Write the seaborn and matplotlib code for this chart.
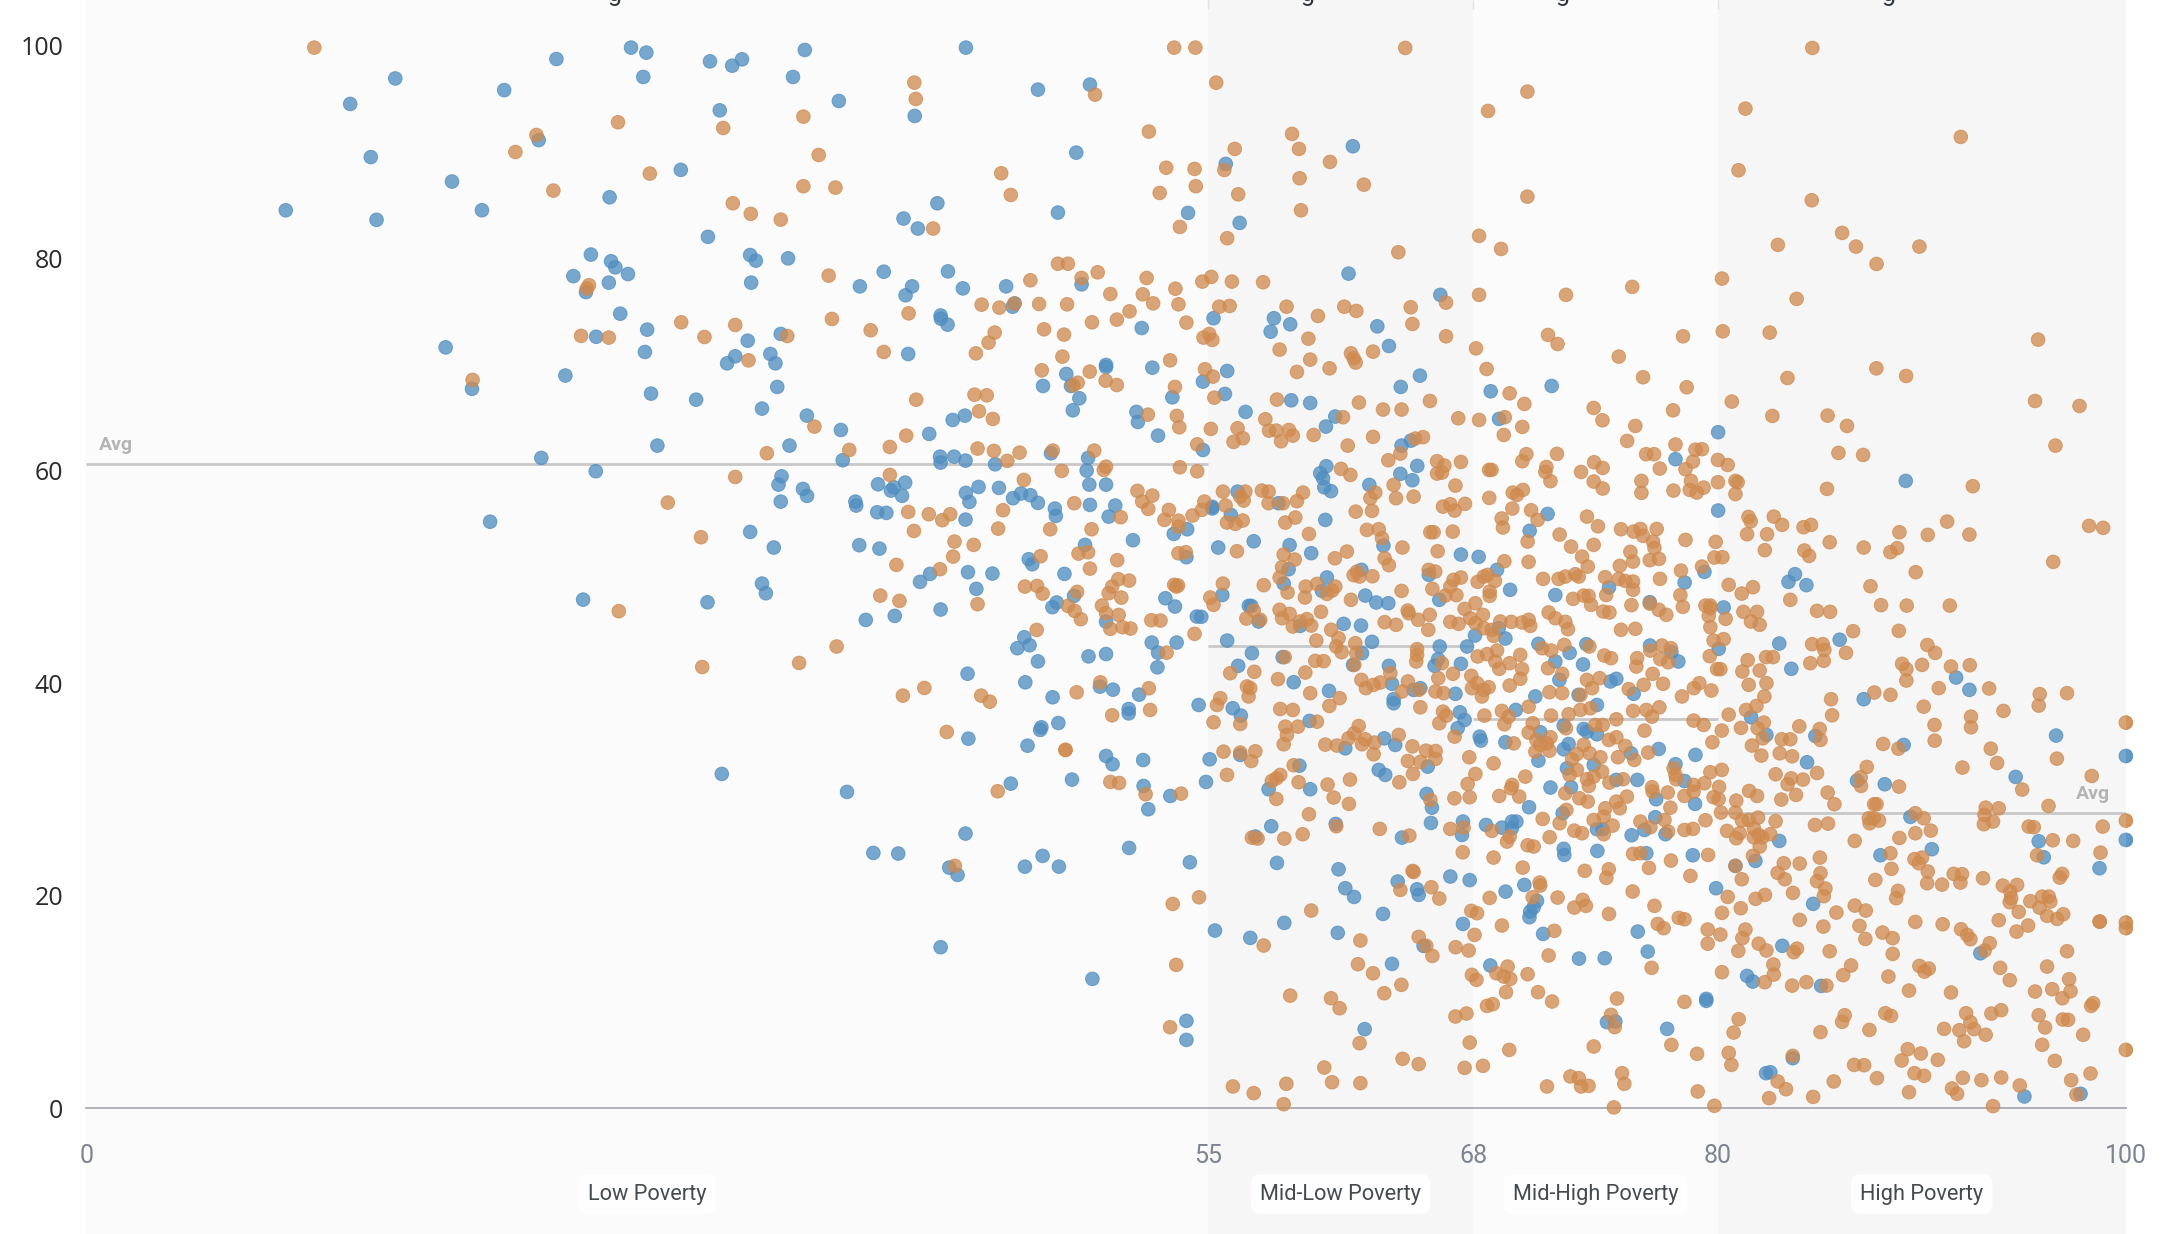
import matplotlib
matplotlib.use("Agg")
import matplotlib.pyplot as plt
from matplotlib.patches import Rectangle
import pandas as pd
import seaborn as sns

# Poverty-band breakpoints and labels
band_edges = [0, 55, 68, 80, 100]
band_labels = ["Low Poverty", "Mid-Low Poverty", "Mid-High Poverty", "High Poverty"]
band_averages = [60.64, 43.55, 36.6, 27.8]
y_ticks = [0, 20, 40, 60, 80, 100]

# (poverty %, score) per school, two groups
blue_points = [
(9.78,84.5),(14.23,83.6),(13.95,89.5),(12.94,94.5),(15.15,96.9),(17.93,87.2),(19.4,84.5),(20.49,95.8),(23.05,98.73),(22.18,91.1),
(17.62,71.6),(18.91,67.7),(23.49,68.95),(22.31,61.2),(24.98,59.95),(19.8,55.2),(23.88,78.3),(24.74,80.33),(24.5,76.8),(25.0,72.6),(24.36,47.87),
(26.71,99.8),(27.46,99.33),(27.31,97.04),(30.58,98.51),(31.67,98.1),(32.15,98.7),(35.23,99.58),(34.65,97.04),(36.9,94.78),(43.13,99.8),
(40.62,93.37),(46.66,95.85),(49.21,96.32),(48.54,89.92),(31.06,93.9),(29.15,88.3),(25.66,85.72),(30.48,82.0),(41.73,85.16),(40.07,83.72),
(40.77,82.78),(47.64,84.28),(54.02,84.25),
(62.1,90.52),(55.87,88.86),(56.55,83.31),(61.89,78.54),(66.39,76.54),
(25.73,79.7),(25.94,79.13),(26.56,78.5),(25.62,77.69),(26.18,74.77),(27.5,73.27),(27.39,71.17),(27.69,67.25),(29.9,66.68),(28.0,62.36),
(32.55,80.29),(32.83,79.76),(34.41,79.98),(32.6,77.69),(34.05,72.86),(32.43,72.23),(33.54,70.98),(33.79,70.1),(31.82,70.76),(31.42,70.1),
(33.88,67.88),(33.13,65.84),(35.33,65.18),(37.0,63.83),(34.48,62.36),(39.1,78.72),(37.93,77.34),(40.49,77.34),(40.17,76.5),(42.25,78.75),
(42.98,77.15),(45.1,77.34),(45.52,75.74),(45.42,75.43),(41.89,74.6),(41.9,74.3),(42.23,73.74),(40.3,70.98),(48.8,77.53),(51.75,73.42),
(50.0,69.95),(50.0,69.75),(48.05,69.1),(46.91,67.97),(48.28,67.97),(48.69,66.81),(48.37,65.68),(52.27,69.69),(53.25,66.9),(51.49,65.53),
(51.56,64.58),(52.55,63.3),(42.48,64.77),(43.08,65.18),(41.33,63.46),(41.86,61.32),(41.89,60.76),(42.55,61.32),(43.11,60.95),(44.56,60.6),
(47.3,61.64),(49.12,61.2),(49.05,60.01),(49.18,58.69),(50.0,58.69),(37.09,60.98),(34.09,59.47),(33.94,58.69),(35.14,58.28),(35.34,57.63),
(34.05,57.09),(37.71,57.09),(37.75,56.72),(38.82,58.72),(39.6,58.44),(39.45,58.13),(40.15,58.88),(40.0,57.63),(38.78,56.09),(39.23,56.03),
(43.13,57.91),(43.3,57.06),(43.75,58.47),(44.75,58.38),(45.44,57.41),(45.83,57.85),(46.29,57.69),(46.66,56.97),(47.49,56.43),(47.54,55.74),
(49.21,56.78),(50.45,56.72),(50.13,55.68),(43.11,55.4),(51.32,53.46),(53.32,54.05),(53.98,54.49),(32.55,54.24),(33.71,52.77),(37.9,52.99),
(38.89,52.67),(48.97,53.02),(46.21,51.67),(46.38,51.2),(53.94,51.86),(41.37,50.29),(40.88,49.54),(43.23,50.45),(44.43,50.32),(43.64,48.88),
(47.96,50.29),(48.43,48.22),(52.91,48.0),(53.38,47.22),(47.58,47.6),(47.37,47.16),(30.46,47.62),(33.13,49.38),(33.32,48.47),(41.89,46.94),
(39.64,46.34),(38.22,45.96),(50.0,45.8),(54.45,46.28),(45.99,44.33),(46.25,43.58),(45.65,43.3),(52.24,43.83),(53.46,43.83),
(43.21,40.9),(46.66,42.06),(49.14,42.53),(50.0,42.75),(52.55,42.88),(52.52,41.5),(46.04,40.09),(47.38,38.68),(49.7,39.68),(50.34,39.4),
(51.62,38.93),(51.11,37.58),(51.11,37.17),(54.54,37.96),(47.66,36.26),(46.83,35.86),(46.77,35.61),(43.25,34.79),(46.15,34.13),(50.0,33.16),
(50.32,32.38),(51.82,32.78),(31.16,31.47),(37.3,29.78),(45.33,30.56),(48.33,30.94),(51.84,30.34),(53.15,29.4),(52.07,28.15),(43.11,25.86),
(38.59,24.04),(39.81,23.98),(42.31,22.66),(42.72,21.97),(46.89,23.76),(46.02,22.75),(47.69,22.75),(51.13,24.51),(54.11,23.16),(41.89,15.17),
(49.33,12.19),(53.94,8.24),(53.94,6.45),
(55.27,74.34),(58.23,74.34),(59.03,73.77),(58.07,73.08),(63.3,73.58),(63.87,71.73),(55.94,69.38),(54.75,68.38),(55.83,67.22),(59.08,66.62),
(60.01,66.37),(56.84,65.53),(61.24,65.09),(60.78,64.15),(65.39,68.94),(64.45,67.88),(68.86,67.47),(71.85,67.97),(69.27,64.87),(64.49,62.36),
(64.95,62.83),(54.75,61.95),(60.8,60.42),(60.5,59.76),(60.64,59.29),(60.7,58.44),(61.03,58.07),(65.26,60.45),(64.43,59.7),(65.02,59.1),
(62.91,58.66),(77.92,61.08),(56.45,58.03),(55.21,56.6),(55.21,56.45),(56.12,55.84),(58.46,56.94),(60.75,55.37),(71.65,55.93),(70.77,54.34),
(57.24,53.36),(55.5,52.77),(59.0,53.0),(60.06,52.24),(63.6,52.96),(67.4,52.11),(68.27,51.89),(69.17,50.67),(58.95,50.73),(62.52,50.67),
(60.83,49.95),(58.71,49.38),(60.59,48.69),(65.83,50.2),(69.81,48.79),(72.03,48.3),(74.66,49.01),(78.37,49.48),(55.7,48.3),(62.71,48.25),
(63.25,47.6),(63.84,47.53),(66.34,47.85),(76.66,47.63),(57.0,47.28),(57.12,47.28),(54.67,46.25),(57.48,45.81),(59.52,45.4),(61.65,45.59),
(62.5,45.43),(68.09,44.49),(69.58,44.21),(69.25,45.18),(55.94,44.02),(63.04,43.9),(66.36,43.46),(67.7,43.46),(71.2,43.71),(73.55,43.68),
(76.67,43.55),(77.72,42.92),(78.06,42.05),(57.15,42.83),(58.66,42.46),(62.55,42.83),(72.03,42.05),(72.73,42.86),(73.39,41.77),(66.28,42.27),
(66.11,41.64),(67.4,41.83),(62.11,41.73),(56.48,41.64),(63.87,41.64),(59.2,40.1),(72.23,40.32),(74.73,40.17),(75.02,40.42),(64.02,39.95),
(60.93,39.29),(65.41,39.54),(65.08,39.38),(67.13,39.01),(75.87,39.01),(73.17,38.91),(71.05,38.76),(64.1,38.5),
(56.21,37.65),(56.61,36.96),(59.98,36.46),(64.1,38.12),(67.35,37.27),(67.58,36.55),(67.24,35.77),(70.09,37.49),(74.07,37.96),(72.44,36.02),
(73.42,35.7),(73.58,35.45),(74.07,35.2),(71.29,35.39),(69.58,34.45),(68.32,34.98),(68.38,34.61),(63.64,34.82),(64.18,34.2),(61.73,33.88),
(72.68,34.29),(72.44,33.79),(75.74,33.41),(77.1,33.82),(78.9,33.26),(71.2,32.72),(55.08,32.85),(56.58,33.26),(59.48,32.25),(65.77,32.16),
(63.37,31.85),(63.69,31.38),(73.91,32.32),(72.6,32.0),(75.02,30.91),(76.05,30.91),(77.92,32.38),(78.36,30.81),(54.9,30.72),(57.97,30.03),
(60.01,30.03),(71.79,30.19),(72.8,30.22),(65.72,29.59),(65.98,28.3),(76.97,29.09),(78.88,28.65),(70.74,28.34),(72.39,27.77),(65.93,26.86),
(67.5,26.99),(68.63,26.67),(69.41,26.42),(69.9,26.99),(70.12,26.99),(69.9,26.36),(61.26,26.77),(58.1,26.55),(57.32,25.58),(64.51,25.48),
(67.45,25.73),(74.07,26.27),(74.35,26.27),(76.93,27.4),(76.4,26.2),(77.43,25.8),(75.77,25.7),(72.44,24.42),(72.47,23.85),(74.09,24.23),
(76.49,24.01),(78.77,23.82),(58.38,23.1),(61.4,22.5),(66.88,21.82),(67.83,21.48),(64.3,21.35),(61.73,20.72),(62.16,19.9),(65.25,20.62),
(65.33,20.09),(70.51,21.03),(69.59,20.4),(71.13,19.53),(70.97,18.93),(70.8,18.52),(70.76,17.99),(63.58,18.3),(58.74,17.46),(67.5,17.36),
(55.34,16.74),(61.36,16.52),(57.07,16.05),(65.57,15.29),(71.43,16.42),(76.07,16.64),(76.56,14.76),(73.19,14.1),(74.45,14.14),(64.02,13.6),
(68.84,13.45),(62.68,7.46),(74.56,8.12),(74.97,8.18),(77.51,7.49),
(80.01,63.62),(89.21,59.04),(80.01,56.25),(83.78,50.26),(83.46,49.54),(84.34,49.23),(79.34,50.48),(80.28,47.13),(83.01,43.74),(85.97,44.1),
(80.04,43.24),(83.6,41.36),(91.68,40.54),(92.33,39.38),(87.15,38.5),
(81.63,36.8),(82.38,35.14),(84.78,35.04),(89.11,34.2),(96.58,35.08),(100,33.16),(84.37,32.57),(94.6,31.19),(88.18,30.5),(86.82,30.84),
(89.44,27.43),(83.01,25.17),(95.73,25.14),(100,25.26),(90.49,24.39),(87.97,23.82),(95.98,23.63),(81.84,23.29),(80.86,22.82),(98.71,22.6),
(79.91,20.72),(84.67,19.25),(83.16,15.3),(92.87,14.6),(81.43,12.47),(81.71,11.94),(85.06,11.53),(79.43,10.31),(79.43,10.12),(83.67,4.73),
(82.36,3.32),(82.57,3.41),(95.03,1.13),(97.78,1.38),
]

orange_points = [
(11.18,99.8),(22.07,91.58),(21.04,89.98),(22.9,86.35),(18.94,68.54),(24.65,77.45),(24.54,77.13),(24.26,72.68),
(26.07,92.78),(31.23,92.24),(35.16,93.31),(40.6,96.51),(40.67,94.97),(35.91,89.7),(27.63,87.95),(35.16,86.76),(36.73,86.63),(31.7,85.16),
(32.58,84.16),(34.05,83.62),(41.52,82.78),(44.86,87.98),(45.33,85.94),(49.46,95.38),(52.1,91.9),(52.95,88.5),(54.34,88.39),(52.63,86.13),
(54.4,86.76),(53.62,82.93),(53.34,99.8),(54.38,99.8),
(64.67,99.77),(55.4,96.5),(59.12,91.68),(56.31,90.27),(59.46,90.27),(60.98,89.05),(55.8,88.29),(59.49,87.51),(62.64,86.91),(56.48,86.0),
(59.56,84.5),(55.94,81.87),(64.33,80.55),(55.16,78.23),(56.17,77.79),(57.7,77.73),(54.72,77.79),(70.66,95.66),(68.73,93.84),(70.66,85.78),
(68.29,82.09),(69.37,80.86),(72.55,76.54),(75.8,77.29),(68.29,76.54),(80.2,78.07),(84.63,99.77),(81.35,94.06),(91.91,91.4),(81.01,88.26),
(84.6,85.44),(86.09,82.37),(82.94,81.24),(86.77,81.08),(89.88,81.08),(87.78,79.45),(83.86,76.16),
(25.62,72.52),(29.17,73.96),(30.31,72.58),(31.82,73.71),(32.47,70.38),(34.37,72.67),(36.4,78.35),(36.56,74.27),(38.46,73.21),(40.32,74.8),
(39.1,71.17),(43.9,75.62),(44.77,75.34),(45.5,75.71),(46.72,75.68),(48.09,75.65),(46.29,77.91),(47.64,79.47),(48.13,79.47),(48.8,78.13),
(49.59,78.66),(50.21,76.62),(51.99,78.13),(51.8,76.59),(52.31,75.74),(53.4,77.12),(53.55,75.65),(49.31,73.96),(50.53,74.21),(51.15,74.99),
(53.94,73.93),(46.96,73.3),(47.94,72.8),(44.54,72.99),(44.24,72.05),(43.62,71.04),(47.86,70.73),(46.85,69.44),(49.2,69.32),(48.61,68.28),
(48.39,68.03),(49.98,68.47),(50.53,68.06),(53.14,70.38),(53.38,67.88),(40.69,66.68),(43.55,67.15),(44.15,67.09),(43.77,65.59),(44.45,64.87),
(52.05,65.27),(53.47,65.15),(53.59,64.08),(35.7,64.15),(33.37,61.64),(37.41,61.95),(39.4,62.23),(40.2,63.3),(43.7,62.08),(44.5,61.86),
(45.76,61.7),(45.16,60.92),(47.39,61.89),(49.42,61.89),(50.0,60.38),(49.89,60.07),(47.83,59.98),(53.62,60.32),(54.47,59.94),(54.47,62.48),
(31.82,59.41),(28.51,57.0),(39.4,59.6),(45.97,59.13),(30.14,53.74),(40.3,56.12),(41.31,55.9),(41.97,55.34),(42.36,55.9),(40.58,54.33),
(42.57,53.33),(43.51,53.02),(42.5,51.92),(44.95,56.28),(44.71,54.55),(48.44,56.94),(47.26,54.49),(49.29,54.49),(50.72,55.62),(51.54,58.1),
(52.27,57.66),(51.77,57.09),(52.07,56.4),(53.08,56.31),(52.86,55.37),(53.55,55.3),(53.55,54.74),(54.24,55.78),(48.65,52.2),(49.12,52.33),
(46.79,51.95),(50.55,51.58),(49.21,50.79),(53.55,52.23),(53.91,52.33),(39.72,51.14),(41.86,50.73),(46.02,49.1),(46.62,49.16),(46.89,48.44),
(48.58,48.6),(50.6,49.79),(51.13,49.66),(50.3,49.1),(50.13,48.47),(50.75,48.06),(53.34,49.26),(53.53,49.2),(53.44,49.1),(38.93,48.25),
(39.87,47.75),(43.7,47.44),(26.11,46.78),(48.13,47.28),(48.46,46.81),(48.76,46.03),(49.8,47.31),(50.0,46.59),(50.62,46.43),(50.21,45.12),
(50.81,45.27),(51.2,45.15),(52.22,45.93),(52.67,45.9),(46.6,45.02),(54.34,44.65),(36.79,43.46),
(30.2,41.53),(34.95,41.91),(41.09,39.56),(40.04,38.84),(43.88,38.84),(44.3,38.27),(52.97,42.88),(48.56,39.15),(49.72,40.09),(52.1,39.53),
(50.3,36.99),(52.16,37.49),(42.19,35.42),(48.01,33.73),(48.01,33.73),(44.69,29.84),(50.21,30.72),(50.64,30.62),(51.94,29.56),(53.68,29.62),
(42.59,22.82),(53.27,19.24),(54.56,19.87),(53.44,13.51),(53.14,7.64),
(55.55,75.43),(56.06,75.5),(58.85,75.43),(60.39,74.56),(61.68,75.43),(62.27,75.03),(64.94,75.37),(66.67,75.81),(65.02,73.8),(66.67,72.64),
(59.92,72.42),(58.51,71.39),(60.01,70.45),(59.36,69.29),(60.96,69.63),(62.01,71.04),(62.14,70.57),(62.24,70.17),(63.09,71.2),(55.06,72.86),
(54.78,72.52),(55.21,72.3),(68.14,71.51),(68.66,69.57),(71.67,72.77),(72.14,71.92),(78.29,72.64),(75.14,70.73),(76.33,68.79),(78.47,67.85),
(69.79,67.28),(70.51,66.28),(73.91,65.9),(74.34,64.74),(77.8,65.68),(75.95,64.21),(75.55,62.8),(77.92,62.46),(78.9,61.98),(54.85,69.54),
(55.24,68.85),(55.31,66.87),(58.38,66.69),(62.4,66.41),(63.58,65.75),(64.49,65.75),(65.88,66.56),(69.55,65.03),(68.29,64.77),(67.27,64.93),
(70.41,64.12),(69.5,63.36),(61.62,65.03),(57.81,64.84),(57.99,63.77),(58.35,63.77),(58.97,63.83),(59.16,63.3),(58.58,62.77),(60.18,63.36),
(55.14,63.93),(56.45,63.99),(56.71,63.05),(56.25,62.71),(63.09,63.18),(61.85,62.36),(65.16,63.02),(65.54,63.15),(64.43,61.61),(63.84,60.98),
(66.23,60.89),(66.59,60.48),(66.47,59.82),(66.23,59.73),(67.4,60.82),(70.61,61.55),(70.41,60.89),(68.78,60.07),(68.9,60.07),(72.11,61.58),
(71.59,60.35),(71.54,59.88),(71.79,59.01),(73.29,59.88),(73.93,60.79),(74.35,60.26),(73.91,58.98),(74.35,58.32),(76.48,61.55),(76.87,61.55),
(77.15,60.2),(76.25,59.04),(76.25,57.91),(77.82,58.13),(78.78,60.86),(78.41,60.14),(78.68,59.04),(78.62,58.19),(78.96,57.94),(61.52,60.17),
(61.98,59.6),(67.13,58.6),(64.1,58.66),(64.22,57.41),(65.08,57.56),(63.2,57.94),(62.96,57.41),(55.73,58.03),(56.83,58.03),(56.58,57.56),
(56.75,57.19),(57.64,58.13),(57.97,58.03),(57.97,56.94),(58.67,56.94),(59.66,57.94),(59.36,57.13),(55.86,56.72),(54.82,57.09),(54.7,56.31),
(62.24,56.15),(63.04,56.22),(68.79,57.44),(69.94,57.94),(70.15,57.72),(70.44,58.19),(69.92,56.44),(66.52,56.62),(66.88,56.84),(67.09,56.25),
(67.6,56.88),(70.84,56.28),(71.16,55.37),(69.4,55.5),(69.46,54.65),(73.58,55.68),(74.12,54.77),(75.25,54.49),(75.87,54.27),(76.2,54.52),
(76.33,53.87),(77.0,54.52),(78.41,53.49),(76.82,53.33),(76.89,52.74),(75.71,52.36),(75.84,51.45),(76.66,51.58),(77.11,51.7),(75.19,51.05),
(78.19,50.6),(77.16,49.82),(74.47,49.98),(75.14,49.82),(75.46,49.63),(75.84,49.57),(75.84,48.79),(74.52,48.3),(75.76,47.35),(78.16,48.29),
(78.28,47.19),(77.1,46.91),(77.47,46.44),(74.38,46.75),(74.68,46.66),(75.25,45.03),(75.95,45.12),(76.66,47.5),(72.24,53.99),(72.8,52.86),
(73.91,53.02),(73.34,51.92),(73.62,50.98),(70.67,53.33),(70.72,51.42),(69.53,51.48),(71.43,49.82),(72.19,49.82),(72.52,50.04),(73.01,50.26),
(73.18,50.04),(72.9,47.94),(73.42,48.25),(73.66,48.22),(73.78,47.38),(71.7,46.66),(72.03,46.12),(72.52,45.78),(72.65,45.09),(65.9,54.21),
(66.06,54.21),(67.0,54.27),(66.26,52.42),(64.53,52.77),(62.79,54.43),(63.37,54.49),(63.53,53.65),(63.66,51.76),(63.87,51.11),(63.06,50.07),
(59.95,54.05),(58.79,55.12),(59.28,55.59),(55.93,55.12),(56.34,55.0),(56.7,55.31),(56.42,52.42),(61.81,52.39),(61.22,51.76),(58.71,52.11),
(59.25,51.64),(58.63,50.92),(58.51,49.95),(62.14,50.17),(62.43,50.04),(62.3,50.51),(57.73,49.23),(55.73,49.38),(55.11,48.07),(55.27,47.38),
(58.9,48.54),(59.79,49.1),(59.75,48.07),(60.34,49.35),(61.24,49.1),(61.08,48.72),(60.83,48.41),(62.01,47.85),(64.49,48.69),(66.0,48.88),
(65.82,50.67),(66.14,50.51),(67.4,49.95),(67.04,49.73),(66.88,49.1),(66.64,48.25),(67.18,48.29),(68.22,49.54),(68.52,50.04),(68.71,50.2),
(69.07,49.63),(68.81,48.63),(68.81,48.22),(68.11,47.53),(67.58,47.0),(64.79,46.84),(64.84,46.59),(65.87,46.44),(65.3,45.97),(65.8,45.03),
(63.66,45.75),(64.22,45.5),(66.88,45.78),(67.29,45.59),(67.86,46.12),(68.48,46.44),(68.11,45.65),(68.52,45.18),(68.92,45.03),(69.01,44.46),
(69.33,45.81),(69.87,45.78),(70.4,45.72),(70.72,45.97),(70.8,45.4),(58.51,46.91),(59.0,46.53),(58.63,46.12),(59.16,45.34),(59.52,45.81),
(59.85,46.03),(60.06,45.43),(60.54,46.72),(56.88,46.09),(57.24,46.84),(57.56,45.97),(61.04,45.03),(61.4,44.24),(60.31,44.02),(61.29,43.46),
(61.55,42.92),(62.22,43.77),(62.27,42.83),(65.25,43.21),(65.25,42.67),(65.21,42.05),(71.38,43.3),(71.83,43.08),(72.47,43.61),(73.7,43.46),
(74.43,42.61),(74.76,42.36),(76.04,42.36),(76.0,41.58),(76.69,43.08),(77.26,43.55),(77.7,43.3),(77.18,42.27),(77.56,41.98),(58.76,42.46),
(60.26,42.11),(60.67,42.08),(62.17,41.73),(56.09,40.95),(57.27,41.08),(59.77,41.01),(58.43,40.39),(56.91,39.7),(57.07,39.54),(56.99,38.76),
(60.01,39.07),(61.45,38.6),(55.6,38.6),(62.52,40.32),(62.74,39.54),(63.12,39.85),(63.45,40.07),(63.94,40.95),(64.8,40.17),(64.51,39.23),
(65.33,39.38),(66.47,41.89),(66.29,40.48),(67.01,40.89),(66.15,39.23),(66.55,39.07),(67.91,40.7),(67.94,39.54),(68.19,40.01),(68.52,39.38),
(68.76,39.63),(68.43,38.76),(68.22,42.52),(68.68,42.74),(69.17,43.08),(69.09,42.05),(69.28,41.36),(69.79,41.89),(70.31,42.67),(70.4,41.33),
(70.31,40.42),(69.79,39.79),(71.67,41.42),(72.36,40.89),(71.74,39.16),(72.36,39.07),(73.58,40.32),(74.2,40.48),(73.83,39.54),(73.26,38.91),
(75.63,39.45),(76.36,39.85),(76.8,40.89),(77.31,39.95),(78.24,38.76),(78.82,39.54),(79.09,40.01),
(55.44,37.96),(55.27,36.33),(56.58,36.17),(58.54,37.58),(59.16,37.49),(60.95,37.87),(65.41,37.74),(66.52,37.33),(66.68,36.96),(66.34,36.24),
(60.34,36.39),(58.79,35.92),(59.41,35.92),(58.87,35.14),(58.71,34.26),(62.39,35.98),(62.17,35.3),(61.89,34.82),(62.71,34.73),(62.55,34.26),
(60.75,34.23),(61.32,34.14),(63.17,34.42),(63.12,33.32),(64.35,35.14),(65.02,34.07),(65.69,33.66),(66.16,33.63),(66.15,32.88),(64.8,32.69),
(65.41,32.6),(65.05,31.47),(64.38,30.69),(55.76,33.57),(56.58,33.48),(57.32,33.6),(57.12,32.69),(55.93,31.38),(59.2,32.29),(58.54,31.38),
(58.35,31.06),(58.13,30.81),(59.44,30.69),(60.86,30.47),(61.96,30.94),(58.35,29.12),(61.16,29.25),(61.91,28.65),(59.95,27.68),(61.29,26.55),
(63.42,26.3),(59.64,25.8),(58.74,25.39),(57.15,25.48),(57.43,25.39),(64.87,25.67),(65.9,29.03),(67.08,29.18),(67.83,29.28),(67.73,30.53),
(68.11,31.47),(67.81,33.04),(69.0,32.47),(68.55,36.96),(69.41,37.4),(69.74,36.86),(69.53,36.14),(70.72,37.8),(70.92,36.24),(71.82,36.96),
(72.68,37.08),(73.26,37.49),(73.75,37.65),(75.84,37.4),(76.49,37.49),(77.13,37.74),(76.77,36.86),(75.02,36.61),(73.99,36.08),(74.35,36.08),
(72.55,35.77),(76.4,35.55),(78.81,36.49),(67.09,34.98),(70.72,35.36),(69.99,34.35),(71.79,34.92),(71.1,34.67),(71.29,34.2),(71.62,34.35),
(71.05,33.57),(71.74,33.66),(74.65,34.67),(75.02,34.92),(75.46,34.1),(73.42,34.2),(73.09,33.35),(73.71,33.41),(72.85,32.85),(74.24,33.04),
(75.1,33.04),(75.9,32.79),(76.58,33.48),(73.09,31.85),(72.73,31.38),(74.32,31.69),(73.91,31.22),(73.58,30.97),(74.68,30.66),(73.67,30.34),
(75.35,30.97),(70.56,31.22),(69.91,30.44),(69.86,30.12),(70.26,29.34),(69.28,29.4),(72.52,29.65),(73.21,29.18),(73.62,28.87),(75.02,28.87),
(75.54,29.34),(75.19,28.24),(74.48,28.24),(72.57,28.09),(71.41,27.24),(72.24,26.83),(74.4,27.46),(73.91,27.14),(74.84,26.61),(72.96,26.14),
(73.34,25.89),(74.4,25.8),(71.75,25.52),(70.67,24.76),(70.97,24.64),(69.79,25.58),(69.66,25.11),(68.92,26.11),(67.53,26.42),(66.88,26.3),
(67.49,24.1),(69.0,23.6),(77.83,32.0),(77.92,31.38),(77.96,30.97),(76.77,30.22),(76.8,29.81),(77.54,29.72),(78.36,29.4),(78.81,30.44),
(78.81,29.81),(77.67,28.3),(76.2,26.99),(76.69,26.46),(77.38,27.14),(77.56,26.05),(78.36,26.2),(78.78,26.3),(75.84,23.95),(76.2,24.01),
(77.7,23.32),(76.62,22.63),(78.65,21.88),(73.47,22.35),(74.65,22.5),(74.53,21.69),(70.43,22.66),(71.26,21.25),(71.29,20.97),(75.82,20.41),
(65.03,22.35),(65.08,22.25),(64.43,20.56),(65.95,20.81),(66.34,19.75),(68.81,19.81),(70.92,19.87),(72.14,19.84),(73.37,19.62),(72.96,18.9),
(73.53,19.06),(74.66,18.3),(76.89,19.06),(78.08,17.93),(78.36,17.8),(77.05,17.36),(77.34,16.96),(60.06,18.62),(67.91,18.59),(68.19,18.37),
(69.41,17.21),(68.07,16.33),(71.98,16.71),(65.33,16.14),(65.7,15.3),(66.0,14.35),(67.14,15.17),(67.78,14.86),(62.47,15.8),(57.73,15.33),
(62.35,13.57),(63.09,12.72),(64.48,11.63),(63.64,10.84),(59.03,10.62),(61.03,10.37),(61.45,9.43),(71.7,14.39),(69.69,13.35),(69.14,12.72),
(69.5,12.41),(69.82,12.19),(67.94,12.57),(68.16,12.1),(70.67,12.63),(69.61,10.94),(71.18,10.94),(71.87,10.06),(76.75,13.23),(68.68,9.65),
(68.96,9.81),(67.67,8.93),(67.13,8.65),(75.05,10.34),(74.76,8.81),(74.94,7.65),(78.36,10.03),(62.43,6.14),(67.83,6.2),(69.77,5.51),
(73.91,5.83),(77.72,5.98),(64.54,4.67),(65.33,4.17),(68.48,4.01),(67.58,3.82),(60.7,3.85),(61.08,2.47),(58.84,2.32),(62.47,2.38),
(56.22,2.07),(57.24,1.44),(72.77,3.01),(73.18,2.85),(73.29,2.07),(73.66,2.13),(71.62,2.07),(75.3,3.32),(75.41,2.32),(79.01,1.6),
(78.98,5.14),(58.71,0.4),(74.9,0.1),
(80.24,73.11),(82.54,72.99),(83.41,68.72),(87.77,69.63),(89.23,68.91),(95.7,72.33),(95.55,66.56),(97.73,66.09),(96.55,62.36),(80.68,66.5),
(82.67,65.15),(85.38,65.18),(86.33,64.21),(85.91,61.67),(87.12,61.48),(79.22,62.02),(80.0,61.01),(80.48,60.54),(80.0,58.91),(80.86,59.04),
(80.97,58.91),(80.86,57.8),(79.3,58.41),(85.35,58.29),(92.5,58.54),(81.5,55.65),(81.61,55.24),(82.74,55.68),(83.15,54.9),(81.43,54.02),
(82.41,54.02),(84.2,54.68),(84.57,54.9),(98.2,54.81),(98.89,54.62),(91.24,55.21),(90.29,53.96),(92.33,53.99),(88.9,54.21),(88.79,52.71),
(88.46,52.33),(87.15,52.77),(85.48,53.27),(79.89,53.3),(82.3,52.52),(84.24,52.49),(84.47,51.98),(79.83,51.83),(80.22,51.86),(79.22,50.98),
(96.44,51.42),(89.7,50.45),(80.53,49.26),(81.72,49.04),(81.17,48.44),(87.48,49.13),(83.55,47.85),(88.0,47.35),(89.26,47.31),(91.37,47.31),
(84.86,46.81),(85.5,46.72),(81.25,46.72),(81.92,46.72),(79.39,47.31),(79.63,47.31),(79.63,47.06),(79.55,46.34),(80.38,46.06),(81.62,45.81),
(82.05,45.5),(79.63,45.28),(86.63,44.9),(88.87,44.93),(80.28,44.15),(79.79,44.02),(84.62,43.68),(85.14,43.68),(85.22,43.14),(86.28,42.86),
(90.27,43.6),(90.65,42.86),(79.6,42.55),(82.36,42.46),(82.7,42.46),(81.46,42.17),(84.53,41.89),(85.19,42.11),(89.03,41.83),(89.24,41.33),
(90.01,41.73),(91.43,41.58),(92.35,41.7),(79.96,41.33),(80.12,41.33),(81.2,41.11),(82.05,41.2),(89.24,40.26),(81.51,39.85),(82.38,40.01),
(79.68,39.32),(82.28,38.76),(90.83,39.54),(93.3,39.51),(87.67,39.13),(88.46,38.91),(85.55,38.5),(95.78,38.98),(97.12,39.07),
(80.53,37.05),(81.38,37.49),(81.89,37.87),(85.6,36.99),(90.09,37.8),(90.62,36.08),(92.41,36.86),(92.41,35.86),(94.0,37.4),(95.73,37.9),
(90.63,34.6),(100,36.3),(79.3,36.08),(80.19,35.55),(81.13,35.8),(81.95,35.77),(82.25,36.3),(82.2,34.82),(83.99,35.95),(84.99,35.7),
(85.03,34.67),(83.13,34.73),(83.55,34.73),(79.73,34.45),(81.67,34.14),(82.13,33.2),(83.03,33.41),(83.64,33.13),(88.1,34.29),(88.85,33.85),
(93.38,33.85),(93.69,32.5),(96.62,32.91),(91.99,32.07),(80.19,31.85),(79.63,31.63),(84.86,31.56),(82.83,31.44),(83.59,31.06),(84.17,30.94),
(83.42,30.5),(79.34,30.59),(80.06,30.25),(87.3,32.13),(87.0,31.16),(87.02,30.34),(88.88,30.28),(81.53,29.87),(81.92,29.4),(83.83,29.5),
(83.11,29.06),(85.38,29.72),(85.71,28.62),(79.79,29.28),(80.04,29.09),(80.9,28.96),(94.92,30.0),(98.33,31.28),(96.21,28.46),(87.66,28.62),
(87.78,28.62),(93.13,28.3),(93.77,28.24),(89.68,27.77),(90.09,27.3),(90.44,26.14),(89.68,25.89),(88.9,25.45),(86.71,25.17),(93.07,27.62),
(93.04,26.74),(93.49,26.99),(95.24,26.52),(95.49,26.46),(98.87,26.52),(100,27.08),(80.15,27.84),(79.39,27.11),(80.86,27.84),(81.18,27.08),
(81.51,27.14),(81.97,27.36),(82.83,27.02),(84.76,26.67),(85.4,26.8),(87.4,27.3),(87.64,27.3),(87.44,26.83),(87.9,27.08),(81.76,26.36),
(80.45,26.11),(81.07,25.89),(80.9,25.42),(82.0,25.73),(82.18,25.51),(81.76,25.51),(82.57,25.8),(82.05,24.64),(79.52,23.85),(81.72,23.76),
(96.42,25.23),(97.42,25.17),(88.46,24.01),(98.76,24.07),(95.65,23.82),(85.0,23.6),(89.64,23.45),(90.01,23.6),(89.85,23.07),(84.01,23.04),
(83.23,23.07),(80.86,22.82),(88.51,22.54),(90.29,22.29),(82.93,22.16),(83.28,21.56),(85.03,22.13),(84.86,21.38),(81.17,21.56),(87.72,21.5),
(91.56,22.07),(91.97,22.04),(91.89,21.25),(90.26,21.19),(90.99,21.06),(93.0,21.66),(96.88,22.07),(96.76,21.72),(93.97,20.97),(94.67,21.03),
(85.27,20.69),(85.19,19.97),(80.48,19.9),(82.31,20.09),(81.85,19.72),(83.68,20.28),(88.83,20.47),(88.74,19.78),(94.34,20.4),(94.38,19.78),
(94.31,19.4),(95.32,19.5),(95.9,19.93),(96.22,19.93),(96.3,19.46),(95.77,18.9),(94.75,18.49),(96.14,18.12),(96.93,18.27),(96.63,17.83),
(86.71,19.09),(87.25,18.62),(85.81,18.43),(81.12,18.84),(80.2,18.4),(84.01,17.74),(85.17,17.11),(86.94,17.18),(89.68,17.55),(91.02,17.33),
(93.77,17.71),(95.21,17.21),(94.64,16.64),(98.72,17.58),(98.72,17.58),(100,17.49),(100,16.96),(79.5,16.83),(81.35,16.83),(80.12,16.36),
(81.2,16.02),(88.07,16.55),(88.57,16.02),(87.23,15.95),(91.92,16.86),(92.22,16.33),(92.38,15.92),(79.5,15.5),(82.0,15.5),(82.38,14.86),
(83.88,15.04),(83.72,14.7),(81.0,14.82),(85.48,14.79),(88.57,14.54),(93.33,15.55),(93.08,14.86),(97.12,14.79),(82.72,13.54),(86.53,13.45),
(80.2,12.82),(82.74,12.6),(86.14,12.54),(89.88,13.41),(90.34,13.16),(90.13,12.88),(88.36,12.41),(93.84,13.23),(96.14,13.35),(94.31,12.07),
(97.22,12.16),(82.3,11.88),(83.64,11.56),(84.34,11.88),(85.32,11.56),(96.39,11.22),(97.29,11.03),(95.55,11.0),(89.37,11.09),(91.43,10.91),
(96.89,10.37),(98.4,9.9),(98.3,9.65),(86.22,8.77),(86.09,8.15),(88.21,8.96),(88.49,8.71),(92.17,8.96),(93.89,9.25),(93.41,8.93),
(81.02,8.4),(80.77,7.14),(95.73,8.77),(96.91,8.37),(97.17,8.34),(92.38,8.12),(92.56,7.46),(91.84,7.36),(91.09,7.49),(93.13,6.93),
(92.07,6.33),(96.04,7.62),(85.03,7.18),(87.43,7.39),(97.91,6.93),(95.9,5.99),(80.53,5.23),(89.31,5.58),(89.95,5.17),(83.67,4.95),
(100,5.51),(89.01,4.51),(90.78,4.57),(96.52,4.48),(86.68,4.1),(87.17,4.07),(80.66,4.1),(89.64,3.32),(90.11,3.07),(87.8,2.85),
(98.27,3.29),(85.68,2.54),(82.93,2.54),(83.34,1.81),(92.01,2.88),(92.92,2.66),(93.89,2.91),(97.32,2.66),(94.8,2.16),(91.48,1.88),
(91.73,1.38),(89.37,1.53),(97.58,1.31),(84.67,1.09),(82.51,0.97),(93.49,0.22),(79.83,0.25),
]

BLUE = "#4f8dc0"
ORANGE = "#cf8a4f"

df = pd.concat([
    pd.DataFrame(blue_points, columns=["poverty", "score"]).assign(group="blue"),
    pd.DataFrame(orange_points, columns=["poverty", "score"]).assign(group="orange"),
], ignore_index=True)

sns.set_theme(style="white")
plt.rcParams["font.family"] = ["Roboto", "DejaVu Sans"]

W, H = 2182, 1234
fig = plt.figure(figsize=(W / 100, H / 100), dpi=100, facecolor="white")
ax = fig.add_axes([86.3 / W, 0, 2039.5 / W, 1])
ax.set_xlim(0, 100)
ax.set_ylim(-11.81, 104.28)
ax.set_facecolor("none")

# alternating band shading behind the points
shades = ["#fbfbfb", "#f6f6f6", "#fbfbfb", "#f6f6f6"]
for lo, hi, shade in zip(band_edges[:-1], band_edges[1:], shades):
    ax.axvspan(lo, hi, color=shade, lw=0, zorder=0)

# average lines for each band
for lo, hi, avg in zip(band_edges[:-1], band_edges[1:], band_averages):
    ax.hlines(avg, lo, hi, color="#c8c8c8", lw=2.0, zorder=1)

sns.scatterplot(
    data=df, x="poverty", y="score", hue="group",
    palette={"blue": BLUE, "orange": ORANGE},
    s=96, alpha=0.76, edgecolor="face", linewidth=0.7,
    legend=False, clip_on=False, zorder=3, ax=ax,
)

# points sitting on the right edge read darker outside the plot area
edge = df[df["poverty"] == 100]
extra = ax.scatter(edge["poverty"], edge["score"], s=96, alpha=0.6, linewidths=0.7,
                   c=[BLUE if g == "blue" else ORANGE for g in edge["group"]],
                   edgecolors="face", zorder=4)
extra.set_clip_path(Rectangle((100, -12), 2, 120, transform=ax.transData))

ax.text(0.6, band_averages[0] + 0.9, "Avg", color="#b4b4b4", fontsize=14,
        fontweight="bold", ha="left", va="bottom", zorder=5)
ax.text(99.2, band_averages[3] + 0.9, "Avg", color="#b4b4b4", fontsize=14,
        fontweight="bold", ha="right", va="bottom", zorder=5)

for name in ["top", "right", "left"]:
    ax.spines[name].set_visible(False)
ax.spines["bottom"].set_position(("data", 0))
ax.spines["bottom"].set_color("#b0b0b8")
ax.spines["bottom"].set_linewidth(1.4)
ax.spines["bottom"].set_zorder(2)

ax.set_xticks(band_edges)
ax.set_xticklabels([str(v) for v in band_edges])
ax.tick_params(axis="x", length=9.5, width=1.0, color="#b0b0b8", labelcolor="#7d8390",
               labelsize=18, pad=16)
ax.set_yticks(y_ticks)
ax.set_yticklabels([str(v) for v in y_ticks], family=["Open Sans", "DejaVu Sans"])
ax.tick_params(axis="y", length=0, labelcolor="#2b2b2b", labelsize=18, pad=16.5)
ax.set_xlabel("")
ax.set_ylabel("")

# band names in rounded chips under the axis
for lo, hi, label in zip(band_edges[:-1], band_edges[1:], band_labels):
    ax.text((lo + hi) / 2, -8.05, label, color="#444a50", fontsize=15.7,
            ha="center", va="center", zorder=5,
            bbox=dict(boxstyle="round,pad=0.42,rounding_size=0.4", fc="#fefefe", ec="none"))

# divider stubs and clipped header text along the top edge
for x in band_edges[1:-1]:
    ax.vlines(x, 103.4, 104.28, color="#dfe1e6", lw=1.0, zorder=2)
for x in [25.9, 59.9, 72.4, 88.4]:
    ax.text(x, 104.2, "g", color="#2f3640", fontsize=18, ha="center",
            va="baseline", clip_on=False)

fig.savefig("out.png", dpi=100)
